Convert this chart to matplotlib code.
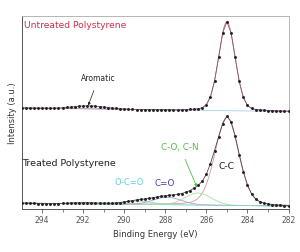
import numpy as np
import matplotlib
matplotlib.use("Agg")
import matplotlib.pyplot as plt

# ---- data (binding energy, eV; intensity in arbitrary units) ----
energy = [295.0 - 0.2 * i for i in range(66)]

untreated = [100.5, 100.4, 100.4, 100.3, 100.3, 100.3, 100.3, 100.3, 100.4, 100.5,
             100.8, 101.1, 101.4, 101.9, 102.2, 102.5, 102.6, 102.6, 102.3, 102.0,
             101.5, 101.0, 100.5, 100.1, 99.7, 99.5, 99.3, 99.1, 99.0, 98.95,
             98.9, 98.8, 98.8, 98.7, 98.7, 98.6, 98.6, 98.5, 98.5, 98.4,
             99.0, 99.2, 99.3, 99.7, 100.7, 103.8, 111.6, 127.6, 151.6, 175.9,
             186.8, 175.8, 151.4, 127.2, 111.2, 103.2, 100.1, 98.9, 98.5, 98.2,
             98.0, 97.8, 97.6, 97.5, 97.4, 97.3]

treated = [5.5, 5.4, 5.3, 5.2, 5.0, 4.9, 4.8, 4.8, 4.9, 5.0,
           5.1, 5.3, 5.5, 5.6, 5.7, 5.8, 5.8, 5.7, 5.6, 5.5,
           5.4, 5.4, 5.3, 5.6, 6.0, 6.6, 7.2, 7.9, 8.6, 9.1,
           9.5, 10.1, 10.7, 11.5, 12.2, 12.8, 13.2, 13.6, 14.1, 15.0,
           16.2, 18.0, 20.3, 23.1, 27.3, 34.3, 45.0, 58.0, 72.0, 85.0,
           92.5, 87.0, 73.0, 54.0, 37.0, 23.5, 14.5, 9.5, 6.8, 5.4,
           4.5, 3.9, 3.5, 3.2, 3.0, 2.8]

# fitted components: centre (eV), FWHM (eV), height, lorentz fraction
untreated_peak = (285.0, 0.95, 89.0, 0.15)
untreated_base = (100.5, 97.0)       # baseline at 295 eV and 282 eV

comp_names = ["C-C", "C-O, C-N", "C=O", "O-C=O"]
comp_centre = [285.0, 286.4, 287.9, 289.3]
comp_fwhm = [1.35, 1.5, 1.6, 1.5]
comp_height = [88.0, 12.0, 7.5, 3.5]
comp_eta = [0.2, 0.0, 0.0, 0.0]
comp_color = ["#c99a9a", "#a6e39a", "#a99ad8", "#8fd6cf"]
treated_base = (5.3, 2.5)

x_ticks = [294, 292, 290, 288, 286, 284, 282]


def pvoigt(x, c, f, h, eta):
    g = np.exp(-4 * np.log(2) * (x - c) ** 2 / f ** 2)
    l = 1.0 / (1 + 4 * (x - c) ** 2 / f ** 2)
    return h * ((1 - eta) * g + eta * l)


fig = plt.figure(figsize=(3.0, 2.53), dpi=100)
ax = fig.add_axes([21.5 / 300, 1 - 209.5 / 253, 267 / 300, 192.5 / 253])

xf = np.linspace(295, 282, 400)

# --- untreated ---
bu = untreated_base[1] + (xf - 282) * (untreated_base[0] - untreated_base[1]) / 13
ax.plot(xf, bu, color="#9fd3ec", lw=0.6, zorder=1)
ax.plot(xf, bu + pvoigt(xf, *untreated_peak), color="#c98aa6", lw=0.6, zorder=2)
ax.plot(energy, untreated, color="#8a5068", lw=0.6, zorder=3)
ax.plot(energy, untreated, ls="none", marker="o", ms=1.1, color="#222222", zorder=4)

# --- treated ---
bt = treated_base[1] + (xf - 282) * (treated_base[0] - treated_base[1]) / 13
ax.plot(xf, bt, color="#b5e3ee", lw=0.6, zorder=1)
for c, f, h, e, col in zip(comp_centre, comp_fwhm, comp_height, comp_eta, comp_color):
    ax.plot(xf, bt + pvoigt(xf, c, f, h, e), color=col, lw=0.6, zorder=2)
ax.plot(energy, treated, color="#5a4048", lw=0.6, zorder=3)
ax.plot(energy, treated, ls="none", marker="o", ms=1.1, color="#222222", zorder=4)

ax.set_xlim(295, 282)
ax.set_ylim(0, 192.5)
ax.set_xticks(x_ticks)
ax.set_xticks([293, 291, 289, 287, 285, 283], minor=True)
ax.set_yticks([])
ax.tick_params(axis="x", which="major", length=3, width=0.6, labelsize=5.5,
               colors="#555555", pad=2)
ax.tick_params(axis="x", which="minor", length=2, width=0.5, colors="#555555")
for s in ["top", "right"]:
    ax.spines[s].set_color("#aaaaaa")
    ax.spines[s].set_linewidth(0.6)
for s in ["left", "bottom"]:
    ax.spines[s].set_color("#555555")
    ax.spines[s].set_linewidth(0.7)

ax.set_xlabel("Binding Energy (eV)", fontsize=6, color="#333333", labelpad=3)
ax.set_ylabel("Intensity (a.u.)", fontsize=6, color="#333333", labelpad=3)

ax.text(294.86, 183.5, "Untreated Polystyrene", color="#c8304a", fontsize=6.6,
        ha="left", va="center")
ax.text(294.96, 45.5, "Treated Polystyrene", color="#222222", fontsize=6.8,
        ha="left", va="center")
ax.annotate("Aromatic", xy=(291.75, 103.0), xytext=(291.25, 130.5),
            fontsize=5.5, color="#222222", ha="center", va="center",
            arrowprops=dict(arrowstyle="-|>", lw=0.5, color="#222222",
                            mutation_scale=4, shrinkA=4, shrinkB=0))
ax.text(289.75, 26.5, "O-C=O", color="#5fd3d8", fontsize=6.0, ha="center", va="center")
ax.text(288.05, 25.5, "C=O", color="#4a36b0", fontsize=6.3, ha="center", va="center")
ax.annotate("C-O, C-N", xy=(286.46, 21.5), xytext=(287.29, 61.5),
            fontsize=6.3, color="#4cc040", ha="center", va="center",
            arrowprops=dict(arrowstyle="-|>", lw=0.6, color="#4cc040",
                            mutation_scale=4, shrinkA=4, shrinkB=0))
ax.text(285.0, 42.5, "C-C", color="#222222", fontsize=6.6, ha="center", va="center")

fig.savefig("out.png", dpi=100)
